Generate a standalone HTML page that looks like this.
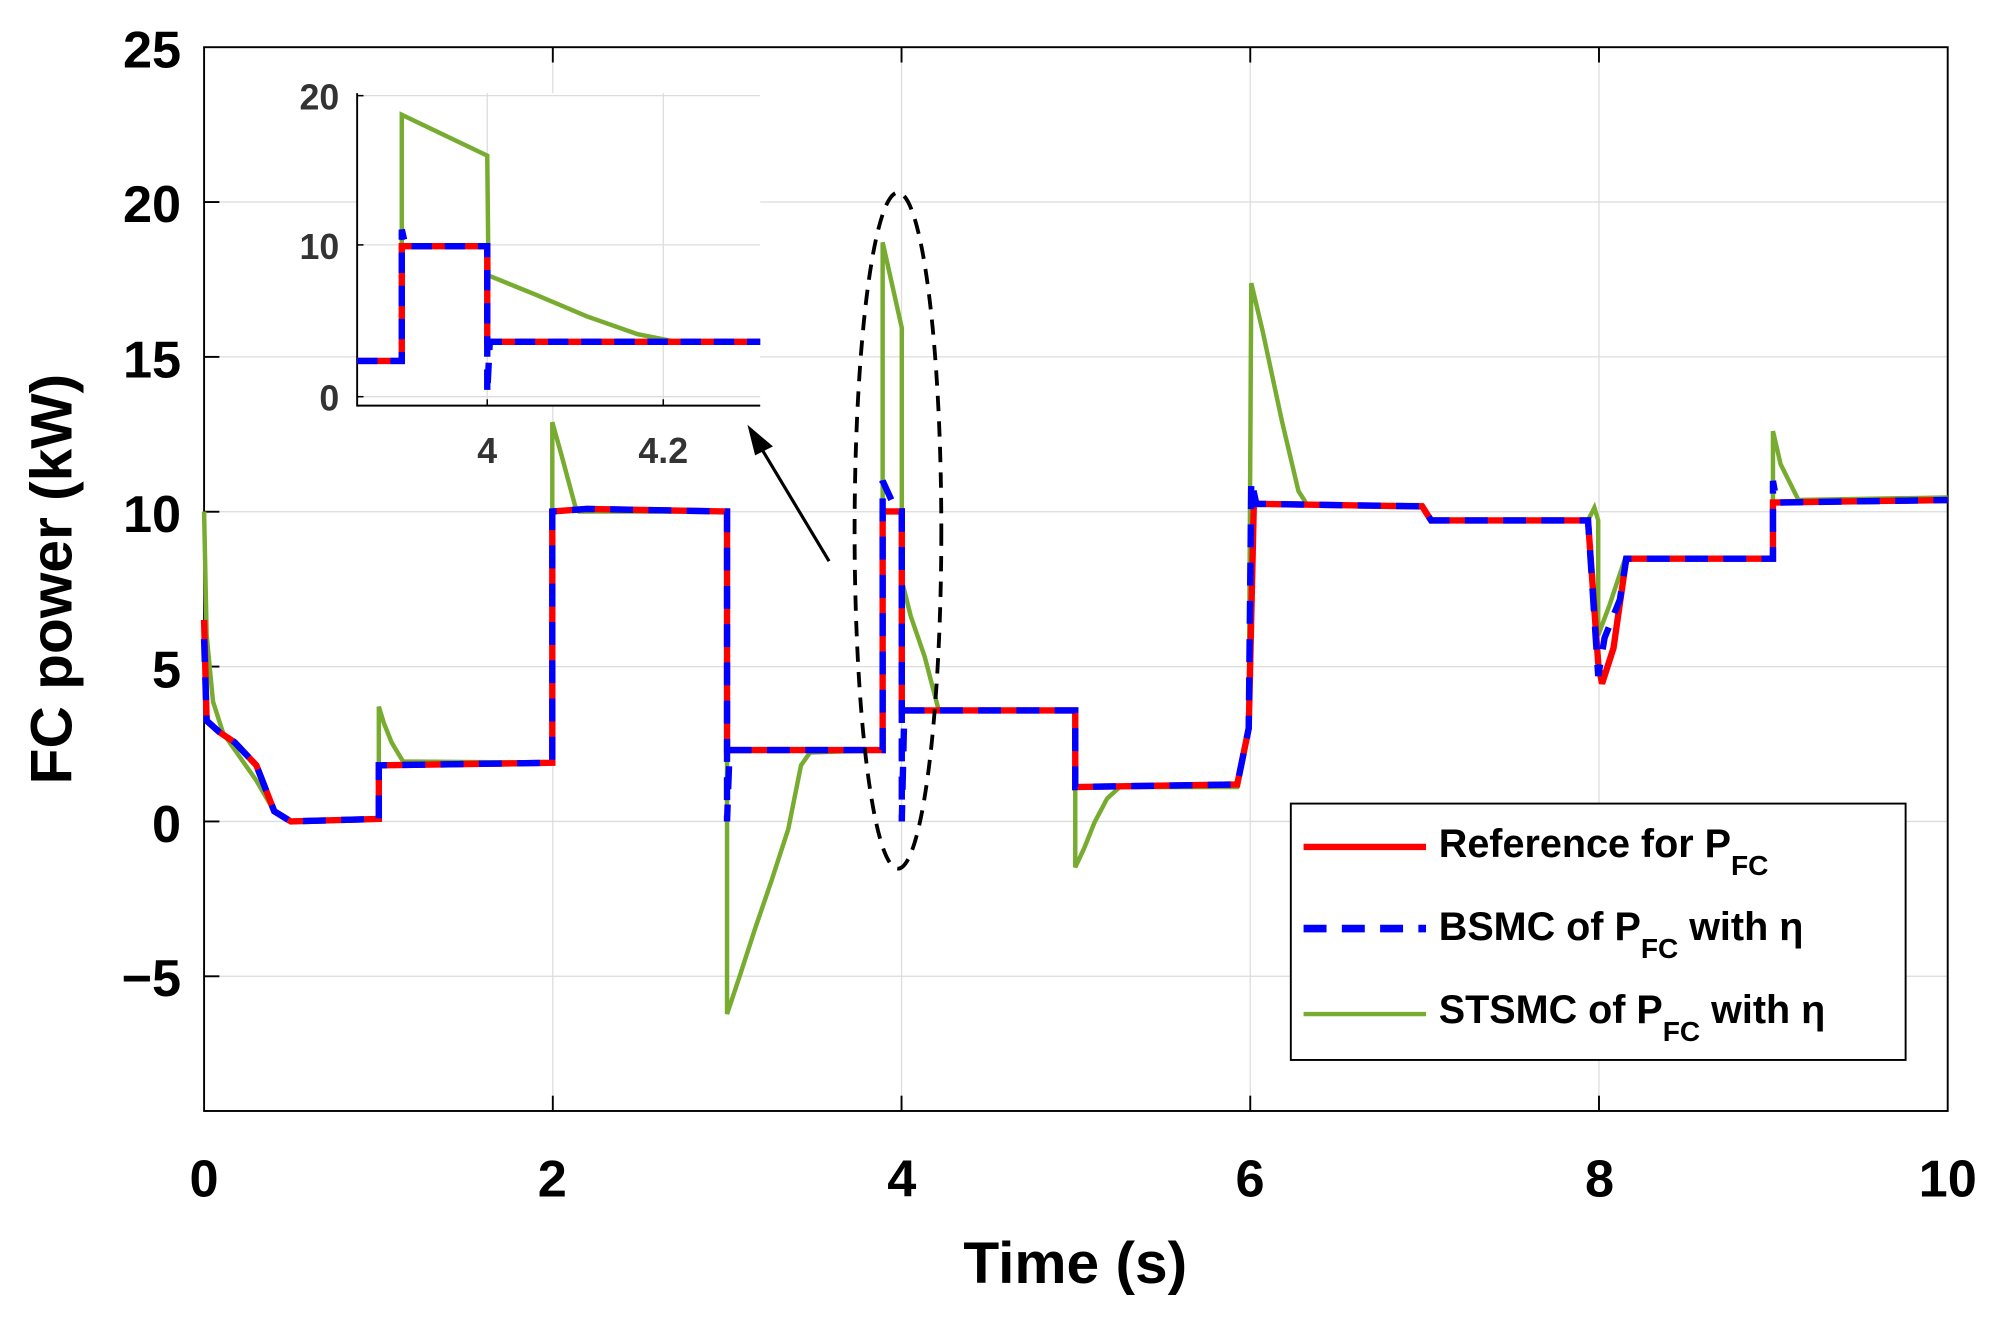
<!DOCTYPE html>
<html><head><meta charset="utf-8"><style>
html,body{margin:0;padding:0;background:#fff;}
svg{display:block;}
text{font-family:"Liberation Sans",sans-serif;font-weight:bold;}
</style></head><body>
<svg width="2000" height="1324" viewBox="0 0 1568 1038" preserveAspectRatio="none">
<rect width="1568" height="1038" fill="#fff"/>
<g stroke="#dcdcdc" stroke-width="1">
<line x1="433.4" y1="37" x2="433.4" y2="871"/><line x1="706.8" y1="37" x2="706.8" y2="871"/>
<line x1="980.2" y1="37" x2="980.2" y2="871"/><line x1="1253.6" y1="37" x2="1253.6" y2="871"/>
<line x1="160" y1="158.4" x2="1527" y2="158.4"/><line x1="160" y1="279.8" x2="1527" y2="279.8"/>
<line x1="160" y1="401.2" x2="1527" y2="401.2"/><line x1="160" y1="522.6" x2="1527" y2="522.6"/>
<line x1="160" y1="644" x2="1527" y2="644"/><line x1="160" y1="765.4" x2="1527" y2="765.4"/>
</g>
<rect x="160" y="37" width="1367" height="834" fill="none" stroke="#000" stroke-width="1.5"/>
<g stroke="#000" stroke-width="1.5">
<line x1="160" y1="158.4" x2="172" y2="158.4"/><line x1="160" y1="279.8" x2="172" y2="279.8"/><line x1="160" y1="401.2" x2="172" y2="401.2"/><line x1="160" y1="522.6" x2="172" y2="522.6"/><line x1="160" y1="644" x2="172" y2="644"/><line x1="160" y1="765.4" x2="172" y2="765.4"/>
<line x1="433.4" y1="871" x2="433.4" y2="859"/><line x1="706.8" y1="871" x2="706.8" y2="859"/><line x1="980.2" y1="871" x2="980.2" y2="859"/><line x1="1253.6" y1="871" x2="1253.6" y2="859"/>
<line x1="433.4" y1="37" x2="433.4" y2="49"/><line x1="706.8" y1="37" x2="706.8" y2="49"/><line x1="980.2" y1="37" x2="980.2" y2="49"/><line x1="1253.6" y1="37" x2="1253.6" y2="49"/>
</g>
<g font-size="41" text-anchor="end" fill="#000">
<text x="142" y="53">25</text><text x="142" y="174">20</text><text x="142" y="296">15</text><text x="142" y="417">10</text><text x="142" y="539">5</text><text x="142" y="660">0</text><text x="142" y="781">−5</text>
</g>
<g font-size="41" text-anchor="middle" fill="#000">
<text x="160" y="938">0</text><text x="433" y="938">2</text><text x="707" y="938">4</text><text x="980" y="938">6</text><text x="1254" y="938">8</text><text x="1527" y="938">10</text>
<text x="843" y="1006" font-size="46">Time (s)</text>
</g>
<text transform="translate(56,454) rotate(-90)" font-size="46" text-anchor="middle">FC power (kW)</text>

<polyline fill="none" stroke="#77ac30" stroke-width="3.5" points="160,401 162,498 167,550 175,575 187,592 201,612 215,636 228,644 297,642 297,554 301,567 307,582 316,597 433,598 433,331 440,356 451,397 454,401 570,401 570,795 580,765 592,728 605,690 618,650 628,600 635,590 692,588 692,190 707,257 707,455 714,483 725,515 736,557 843,557 843,680 850,665 858,645 868,626 878,617 970,617 979,567 981,222 990,260 1005,330 1018,385 1025,396 1115,396 1122,408 1245,408 1250,398 1253,408 1253,498 1262,474 1274,438 1390,438 1390,338 1396,364 1410,392 1527,390"/>
<polyline fill="none" stroke="#ff0000" stroke-width="5" points="160,486 162,565 172,574 184,582 201,600 215,636 228,644 297,642 297,600 433,598 433,401 460,399 570,401 570,588 692,588 692,401 707,401 707,557 843,557 843,617 970,615 979,571 983,395 1115,397 1122,408 1245,408 1253,520 1256,536 1265,508 1275,438 1390,438 1390,394 1527,392"/>
<polyline fill="none" stroke="#0000ff" stroke-width="5" stroke-dasharray="18,12" points="160,501 162,565 172,574 184,582 201,600 215,636 228,644 297,642 297,600 433,598 433,401 460,399 570,401 570,644 572,588 692,588 692,377 703,401 707,401 707,644 709,557 843,557 843,617 970,615 979,571 981,377 985,395 1115,397 1122,408 1245,408 1253,530 1258,500 1270,470 1275,438 1390,438 1390,377 1393,394 1527,392"/>

<ellipse cx="704" cy="416" rx="34" ry="265" fill="none" stroke="#000" stroke-width="3" stroke-dasharray="12,8"/>
<line x1="650" y1="440" x2="596" y2="350" stroke="#000" stroke-width="2.5"/>
<polygon points="586,333 606,350 592,357" fill="#000"/>

<rect x="280" y="73" width="316" height="245" fill="#fff"/>
<g stroke="#dcdcdc" stroke-width="1">
<line x1="382" y1="73" x2="382" y2="318"/><line x1="520" y1="73" x2="520" y2="318"/>
<line x1="280" y1="75" x2="596" y2="75"/><line x1="280" y1="192" x2="596" y2="192"/><line x1="280" y1="311" x2="596" y2="311"/>
</g>
<polyline fill="none" stroke="#000" stroke-width="1.5" points="280,73 280,318 596,318"/>
<g stroke="#000" stroke-width="1.2"><line x1="280" y1="75" x2="285" y2="75"/><line x1="280" y1="192" x2="285" y2="192"/><line x1="280" y1="311" x2="285" y2="311"/><line x1="382" y1="318" x2="382" y2="313"/><line x1="520" y1="318" x2="520" y2="313"/></g>
<g font-size="28" fill="#333">
<text x="266" y="86" text-anchor="end">20</text><text x="266" y="203" text-anchor="end">10</text><text x="266" y="322" text-anchor="end">0</text>
<text x="382" y="363" text-anchor="middle">4</text><text x="520" y="363" text-anchor="middle">4.2</text>
</g>
<polyline fill="none" stroke="#77ac30" stroke-width="3.5" points="280,283 315,283 315,90 382,122 383,216 420,231 460,248 500,262 530,268 596,268"/>
<polyline fill="none" stroke="#ff0000" stroke-width="5" points="280,283 315,283 315,193 382,193 382,268 596,268"/>
<polyline fill="none" stroke="#0000ff" stroke-width="5" stroke-dasharray="16,10" points="280,283 315,283 315,180 318,193 382,193 382,308 384,268 596,268"/>

<rect x="1012" y="630" width="482" height="201" fill="#fff" stroke="#000" stroke-width="1.5"/>
<line x1="1022" y1="664" x2="1118" y2="664" stroke="#ff0000" stroke-width="5"/>
<line x1="1022" y1="728" x2="1118" y2="728" stroke="#0000ff" stroke-width="6" stroke-dasharray="18,12"/>
<line x1="1022" y1="795" x2="1118" y2="795" stroke="#77ac30" stroke-width="3.5"/>
<g font-size="31" fill="#000">
<text x="1128" y="672">Reference for P<tspan font-size="22" dy="14">FC</tspan></text>
<text x="1128" y="737">BSMC of P<tspan font-size="22" dy="14">FC</tspan><tspan dy="-14"> with η</tspan></text>
<text x="1128" y="802">STSMC of P<tspan font-size="22" dy="14">FC</tspan><tspan dy="-14"> with η</tspan></text>
</g>
</svg>
</body></html>
